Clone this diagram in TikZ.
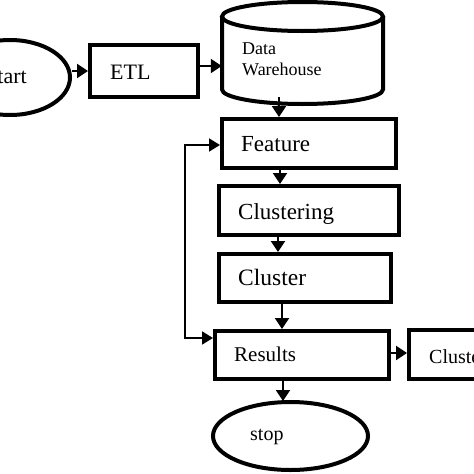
\documentclass[tikz,border=0pt]{standalone}
\usepackage{fontspec}
\setmainfont{Liberation Serif}
\usetikzlibrary{shapes.geometric,arrows.meta}
\tikzset{
  box/.style={draw=black, line width=4pt, rectangle, inner sep=0pt},
  oval/.style={draw=black, line width=4pt, ellipse, inner sep=0pt},
  lbl/.style={inner sep=0pt, anchor=base west},
  arr/.style={line width=2pt, -{Triangle[length=11pt,width=14pt]}},
  fb/.style={line width=1.8pt, {Triangle[length=11pt,width=13pt]}-{Triangle[length=11pt,width=13pt]}},
  cyl/.style={draw=black, line width=4pt}
}
\begin{document}
\begin{tikzpicture}[x=1pt,y=-1pt]
\useasboundingbox (0,0) rectangle (474,474);
\fill[white] (0,0) rectangle (474,474);

% start ellipse
\node[oval, minimum width=120pt, minimum height=75pt] (start) at (10,77.5) {};
\node[lbl, anchor=base east, font=\fontsize{22}{26}\selectfont] (startt) at (27,83) {Start};

% ETL
\node[box, minimum width=108pt, minimum height=52pt] (etl) at (144,71) {};
\node[lbl, font=\fontsize{22}{26}\selectfont] (etlt) at (110,79) {ETL};

% Data warehouse cylinder
\node[inner sep=0pt, minimum width=161pt, minimum height=102pt] (dw) at (302.5,53) {};
\draw[cyl] (222,16.5) -- (222,89.5) arc[start angle=180, end angle=360, x radius=80.5pt, y radius=14.5pt] -- (383,16.5);
\draw[cyl] (302.5,16.5) ellipse[x radius=80.5pt, y radius=14.5pt];
\node[lbl, font=\fontsize{18}{21}\selectfont] (dwt1) at (242,54) {Data};
\node[lbl, font=\fontsize{18}{21}\selectfont] (dwt2) at (242,75) {Warehouse};

% Feature
\node[box, minimum width=174pt, minimum height=49pt] (feature) at (309,143.5) {};
\node[lbl, font=\fontsize{23}{27}\selectfont] (featuret) at (241,151) {Feature};

% Clustering
\node[box, minimum width=180pt, minimum height=49pt] (clustering) at (309,210.5) {};
\node[lbl, font=\fontsize{23}{27}\selectfont] (clusteringt) at (238,219) {Clustering};

% Cluster
\node[box, minimum width=172pt, minimum height=48pt] (cluster) at (305,278) {};
\node[lbl, font=\fontsize{23.5}{27}\selectfont] (clustert) at (238,285) {Cluster};

% Results
\node[box, minimum width=174pt, minimum height=48pt] (results) at (302,355) {};
\node[lbl, font=\fontsize{21}{25}\selectfont] (resultst) at (234,361) {Results};

% Clusters (cut off at the edge, as in the reference)
\node[box, minimum width=111pt, minimum height=49pt] (clust) at (464.5,354.5) {};
\node[lbl, font=\fontsize{20}{24}\selectfont] (clustt) at (429,363) {Clusters};

% stop
\node[oval, minimum width=155pt, minimum height=68pt] (stop) at (290.5,436) {};
\node[lbl, font=\fontsize{20}{24}\selectfont] (stopt) at (250,440) {stop};

% connectors
\draw[arr] (start.east |- etl.west) -- (etl.west);
\draw[arr] ([yshift=5pt]etl.east) -- ([yshift=5pt]etl.east -| dw.west);
\draw[arr] ([xshift=-23.5pt,yshift=7pt]dw.south) -- ([xshift=-30pt]feature.north);
\draw[arr] ([xshift=-29pt]feature.south) -- ([xshift=-29pt]feature.south |- clustering.north);
\draw[arr] ([xshift=-31pt]clustering.south) -- ([xshift=-31pt]clustering.south |- cluster.north);
\draw[arr] ([xshift=-23pt]cluster.south) -- ([xshift=-23pt]cluster.south |- results.north);
\draw[arr] ([xshift=-19pt]results.south) -- ([xshift=-19pt,yshift=-1pt]results.south |- stop.north);
\draw[arr] ([yshift=2pt]results.east) -- ([yshift=2pt]results.east -| clust.west);

\coordinate (fbtop) at (185,145);
\coordinate (fbbot) at (185,338);
\draw[fb] (feature.west |- fbtop) -- (fbtop) -- (fbbot) -- (results.west |- fbbot);
\end{tikzpicture}
\end{document}
